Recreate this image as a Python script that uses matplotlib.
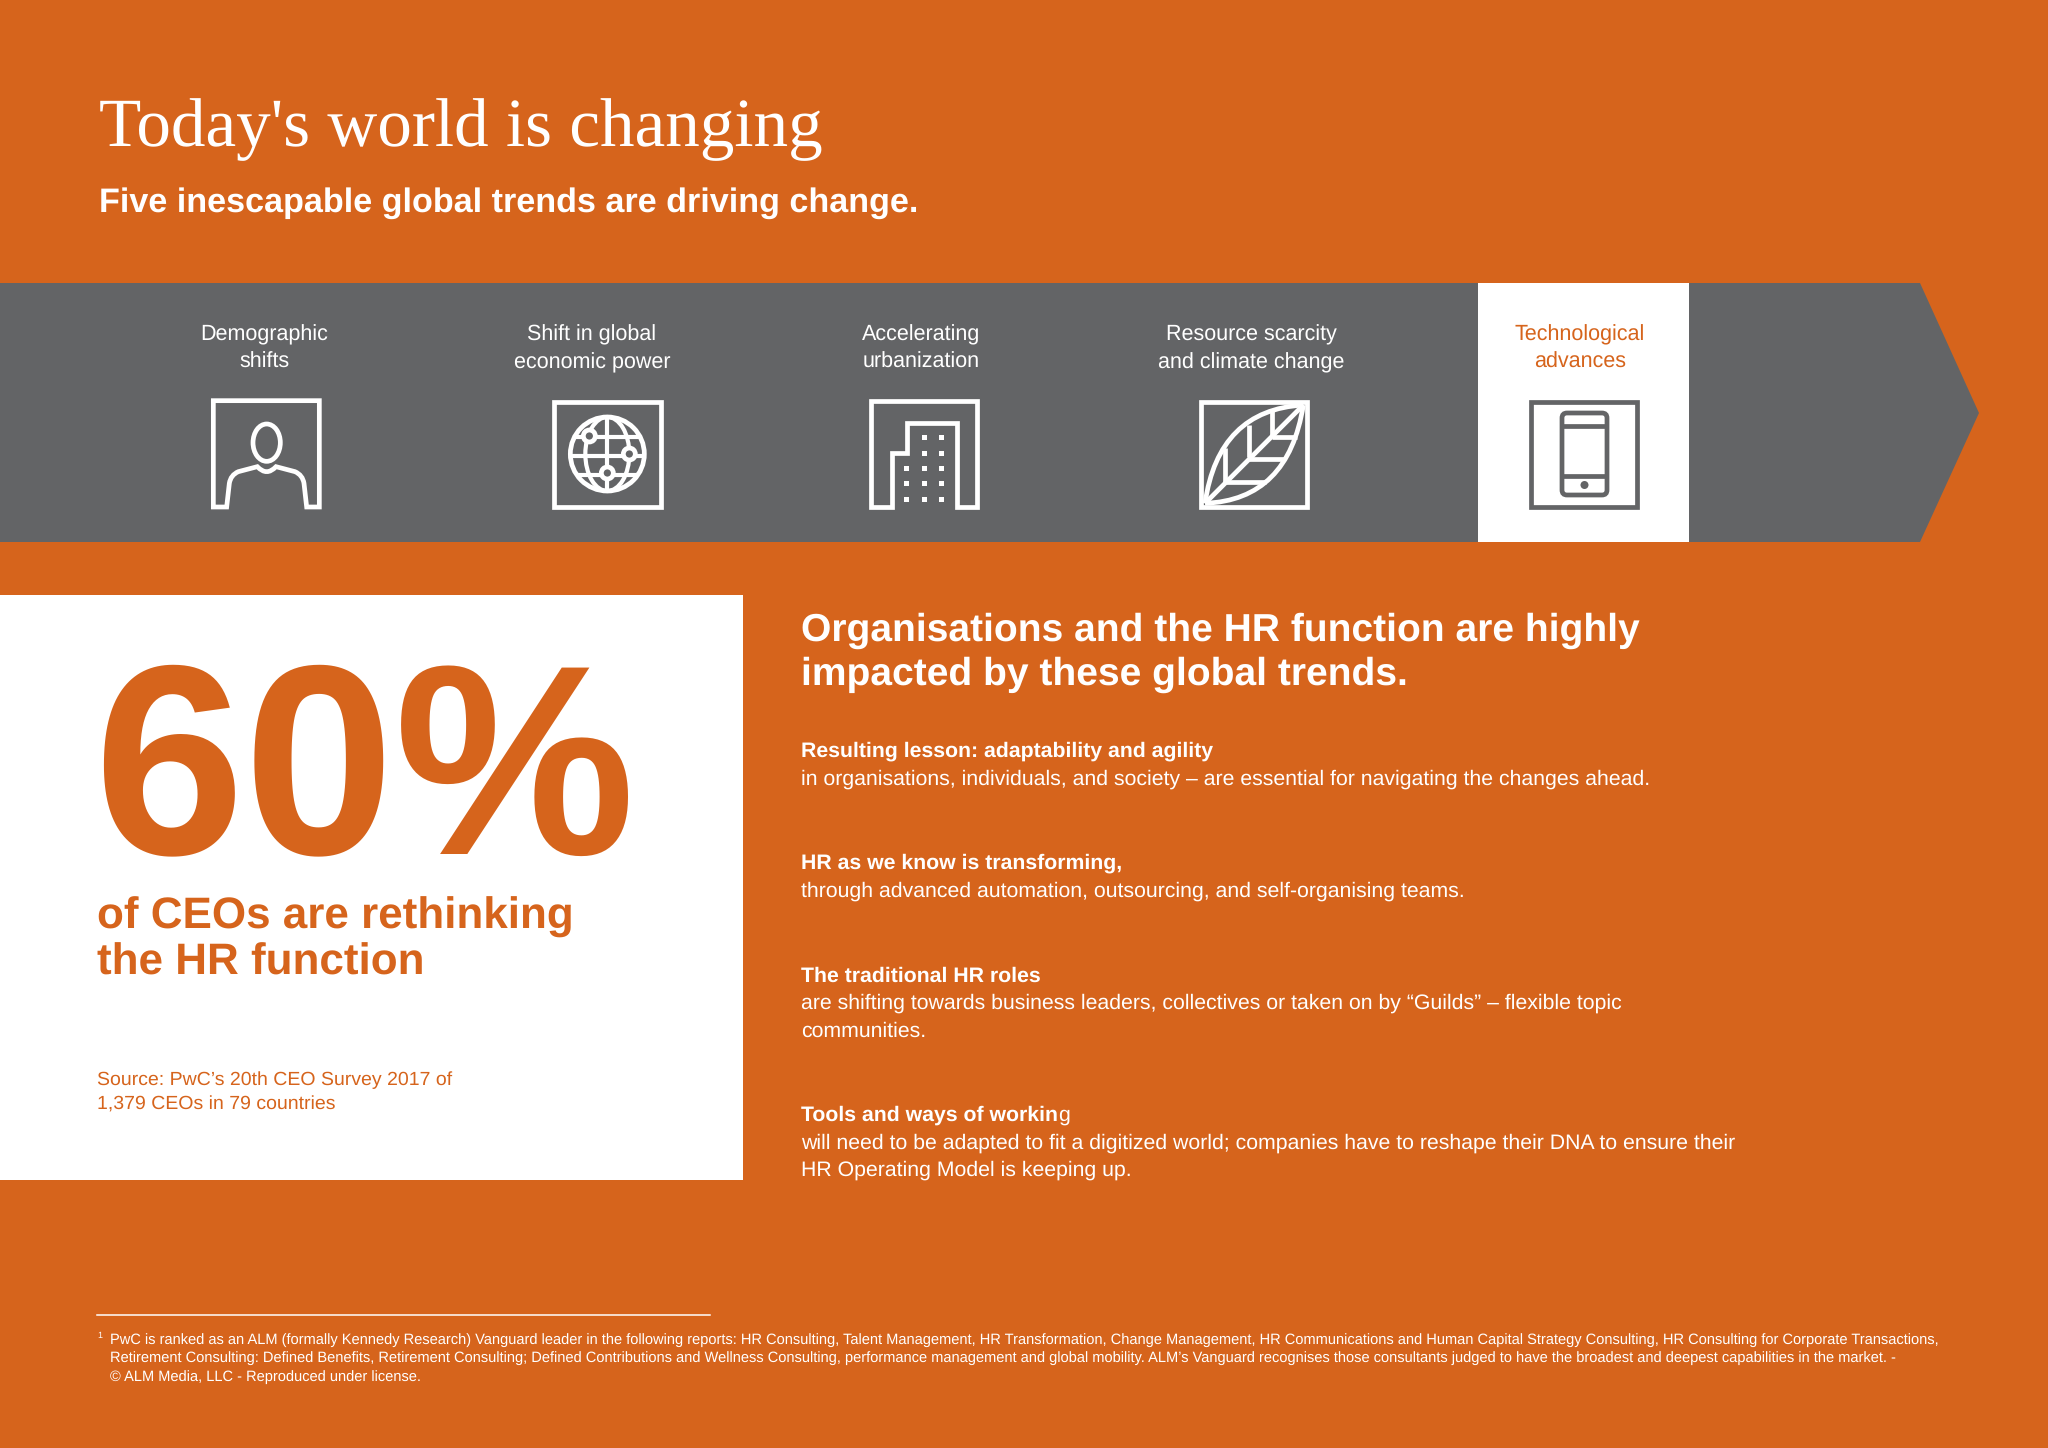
import matplotlib
matplotlib.use('Agg')
import matplotlib.pyplot as plt
from matplotlib.patches import Rectangle, Polygon, Ellipse, Circle, PathPatch, FancyBboxPatch
from matplotlib.path import Path

ORANGE = '#D6641C'
GREY = '#636466'
WHITE = '#FFFFFF'

title = "Today's world is changing"
subtitle = 'Five inescapable global trends are driving change.'
trend_labels = [('Demographic', 'shifts'), ('Shift in global', 'economic power'), ('Accelerating', 'urbanization'),
                ('Resource scarcity', 'and climate change'), ('Technological', 'advances')]
trend_centers = [264, 592, 921, 1251, 1580]
stat_value = '60%'
stat_lines = ['of CEOs are rethinking', 'the HR function']
source_lines = ['Source: PwC\u2019s 20th CEO Survey 2017 of', '1,379 CEOs in 79 countries']
heading_lines = ['Organisations and the HR function are highly', 'impacted by these global trends.']
body_bold = ['Resulting lesson: adaptability and agility', 'HR as we know is transforming,',
             'The traditional HR roles', 'Tools and ways of workin']
body_regular = [['in organisations, individuals, and society \u2013 are essential for navigating the changes ahead.'],
                ['through advanced automation, outsourcing, and self-organising teams.'],
                ['are shifting towards business leaders, collectives or taken on by \u201cGuilds\u201d \u2013 flexible topic', 'communities.'],
                ['will need to be adapted to fit a digitized world; companies have to reshape their DNA to ensure their', 'HR Operating Model is keeping up.']]
body_baselines = [[757, 785], [869, 897], [982, 1009, 1037], [1121, 1149, 1176]]
foot_lines = ['PwC is ranked as an ALM (formally Kennedy Research) Vanguard leader in the following reports: HR Consulting, Talent Management, HR Transformation, Change Management, HR Communications and Human Capital Strategy Consulting, HR Consulting for Corporate Transactions,',
              'Retirement Consulting: Defined Benefits, Retirement Consulting; Defined Contributions and Wellness Consulting, performance management and global mobility. ALM\u2019s Vanguard recognises those consultants judged to have the broadest and deepest capabilities in the market. -',
              '\u00a9 ALM Media, LLC - Reproduced under license.']

plt.rcParams['font.family'] = ['Liberation Sans', 'DejaVu Sans']
plt.rcParams['text.hinting'] = 'none'
plt.rcParams['text.hinting_factor'] = 8

fig = plt.figure(figsize=(20.48, 14.48), dpi=100, facecolor=ORANGE)
ax = fig.add_axes([0, 0, 1, 1])
ax.set_xlim(0, 2048)
ax.set_ylim(1448, 0)
ax.axis('off')

LW = 3.4


def txt(x, y, s, size, color=WHITE, **kw):
    return ax.text(x, y, s, fontsize=size, color=color, va='baseline', **kw)


def stroke(verts, codes=None, color=WHITE, lw=LW, fill='none'):
    ax.add_patch(PathPatch(Path(verts, codes), fc=fill, ec=color, lw=lw, joinstyle='miter', capstyle='butt'))


def frame(x0, x1, color=WHITE):
    ax.add_patch(Rectangle((x0, 401.5), x1 - x0, 105.5, fc='none', ec=color, lw=LW, joinstyle='miter'))


# header
txt(99, 146, title, 49.8, family=['Liberation Serif'])
txt(99, 212, subtitle, 24.6, fontweight='bold')

# grey arrow band
ax.add_patch(Polygon([(0, 283), (1920, 283), (1979, 413), (1920, 542), (0, 542)], fc=GREY, ec='none'))
ax.add_patch(Rectangle((1478, 283), 211, 259, fc=WHITE, ec='none'))
for i, (cx, lab) in enumerate(zip(trend_centers, trend_labels)):
    col = ORANGE if i == 4 else WHITE
    txt(cx, 340, lab[0], 15.5, color=col, ha='center')
    txt(cx, 368, lab[1], 15.5, color=col, ha='center')


# icons, coordinates taken from 3x crops
def z(pts, x0, y0=380):
    return [(x0 + a / 3, y0 + b / 3) for a, b in pts]


# person
M, L, C3, CL = Path.MOVETO, Path.LINETO, Path.CURVE3, Path.CLOSEPOLY
pts = [(140, 381), (100, 381), (100, 62), (418, 62), (418, 381), (380, 381), (372, 310), (368, 285), (345, 275), (288, 260),
       (260, 290), (232, 260), (175, 275), (152, 285), (148, 310), (140, 381)]
codes = [M, L, L, L, L, L, L, C3, C3, L, C3, C3, L, C3, C3, CL]
stroke(z(pts, 180), codes)
ax.add_patch(Ellipse((180 + 260 / 3, 380 + 188 / 3), 82 / 3, 112 / 3, fc='none', ec=WHITE, lw=LW))

# globe
frame(554, 661)
gx, gy = 180 + 1282 / 3, 380 + 222 / 3
ax.add_patch(Circle((gx, gy), 37, fc='none', ec=WHITE, lw=LW))
ax.add_patch(Ellipse((gx, gy), 44, 74, fc='none', ec=WHITE, lw=3))
stroke([(gx, gy - 37), (gx, gy + 37)], lw=3)
for dy, half in [(-17, 33), (2, 37), (21, 31)]:
    stroke([(gx - half, gy + dy), (gx + half, gy + dy)], lw=3)
for dx, dy in [(-18, -18), (22, 0), (0, 19)]:
    ax.add_patch(Circle((gx + dx, gy + dy), 6, fc=GREY, ec=WHITE, lw=LW))

# building
pts = [(155, 381), (93, 381), (93, 62), (410, 62), (410, 381), (350, 381), (350, 128), (200, 128), (200, 218), (155, 218), (155, 381)]
stroke(z(pts, 840), [M] + [L] * 9 + [CL])
for zy in [173, 219, 265, 311, 357]:
    for zx in [200, 252, 304]:
        if zx == 200 and zy < 265:
            continue
        ax.add_patch(Rectangle((840 + zx / 3 - 2.5, 380 + zy / 3 - 2.5), 5, 5, fc=WHITE, ec='none'))

# leaf
frame(1200.5, 1306.5)
stroke(z([(1095, 370), (1135, 90), (1390, 75)], 840), [M, C3, C3])
stroke(z([(1095, 370), (1345, 360), (1390, 75)], 840), [M, C3, C3])
for seg in [[(1095, 370), (1390, 75)], [(1155, 305), (1155, 205)], [(1228, 232), (1228, 135)], [(1295, 165), (1295, 92)],
            [(1155, 305), (1278, 305)], [(1228, 238), (1335, 238)], [(1295, 172), (1372, 172)]]:
    stroke(z(seg, 840))

# phone
frame(1531, 1637, color=GREY)
ax.add_patch(FancyBboxPatch((1562, 413), 45, 82, boxstyle='round,pad=0,rounding_size=5', fc='none', ec=GREY, lw=LW))
stroke([(1562, 426), (1607, 426)], color=GREY)
stroke([(1562, 476), (1607, 476)], color=GREY)
ax.add_patch(Circle((1584.5, 485), 4, fc=GREY, ec='none'))

# white stat panel
ax.add_patch(Rectangle((0, 595), 743, 585, fc=WHITE, ec='none'))
txt(93, 853, stat_value, 195, color=ORANGE, fontweight='bold')
txt(97, 929, stat_lines[0], 31.7, color=ORANGE, fontweight='bold')
txt(97, 975, stat_lines[1], 31.7, color=ORANGE, fontweight='bold')
txt(97, 1085, source_lines[0], 14.0, color=ORANGE)
txt(97, 1110, source_lines[1], 14.0, color=ORANGE)

# right column
txt(801, 641, heading_lines[0], 28.1, fontweight='bold')
txt(801, 685, heading_lines[1], 28.1, fontweight='bold')
for b, lines, ys in zip(body_bold, body_regular, body_baselines):
    t = txt(801, ys[0], b, 15.28, fontweight='bold')
    for line, y in zip(lines, ys[1:]):
        txt(801, y, line, 15.28)
# last heading ends in a regular "g"
ext = t.get_window_extent(fig.canvas.get_renderer())
txt(ext.x1 + 0.5, body_baselines[3][0], 'g', 15.28)

# footnote
ax.plot([97, 710], [1315, 1315], color=WHITE, lw=1.1)
txt(97, 1338, '1', 6.5)
for line, y in zip(foot_lines, [1344, 1362, 1381]):
    txt(110, y, line, 10.53)

fig.savefig('out.png', dpi=100, facecolor=ORANGE)
